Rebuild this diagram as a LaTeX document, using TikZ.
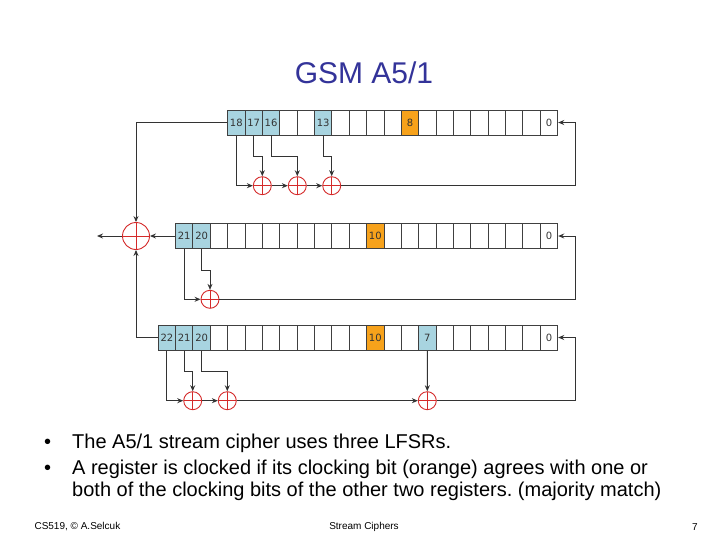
\documentclass[tikz,border=0pt]{standalone}
\usepackage{fontspec}
\setmainfont{Liberation Sans}
\newfontfamily\cellfont{DejaVu Sans}
\usetikzlibrary{arrows.meta}
\definecolor{cellblue}{HTML}{A8D4E0}
\definecolor{cellorange}{HTML}{F7A21B}
\definecolor{xred}{HTML}{D42A2A}
\definecolor{titleblue}{HTML}{333399}
\frenchspacing
\begin{document}
\begin{tikzpicture}[x=1pt,y=-1pt,
  cell/.style={draw=black!75,line width=1pt,minimum width=17.37pt,minimum height=25pt,inner sep=0pt,font=\cellfont\fontsize{10}{10}\selectfont,text=black!80},
  blue/.style={cell,fill=cellblue},
  orange/.style={cell,fill=cellorange},
  xor/.style={circle,draw=xred,line width=0.9pt,minimum size=#1,inner sep=0pt,
    path picture={\draw[xred,line width=0.9pt] (path picture bounding box.north)--(path picture bounding box.south) (path picture bounding box.west)--(path picture bounding box.east);}},
  xor/.default=18pt,
  ln/.style={draw=black!80,line width=1pt},
  arr/.style={ln,-{Stealth[length=6pt,width=5pt]}},
  body/.style={anchor=base west,font=\fontsize{20}{20}\selectfont}]
\useasboundingbox (0,0) rectangle (728,546);
\def\R{557.7}\def\w{17.37}
\node[font=\fontsize{30}{30}\selectfont,text=titleblue] (title) at (364,73) {GSM A5/1};
% register 1
\foreach \n in {0,...,18} \node[cell] (a\n) at ({\R-(\n+0.5)*\w},122.5) {};
\node[blue] (a18) at ({\R-18.5*\w},122.5) {18};
\node[blue] (a17) at ({\R-17.5*\w},122.5) {17};
\node[blue] (a16) at ({\R-16.5*\w},122.5) {16};
\node[blue] (a13) at ({\R-13.5*\w},122.5) {13};
\node[orange] (a8) at ({\R-8.5*\w},122.5) {8};
\node[cell] (a0) at ({\R-0.5*\w},122.5) {0};
% register 2
\foreach \n in {0,...,21} \node[cell] (b\n) at ({\R-(\n+0.5)*\w},236) {};
\node[blue] (b21) at ({\R-21.5*\w},236) {21};
\node[blue] (b20) at ({\R-20.5*\w},236) {20};
\node[orange] (b10) at ({\R-10.5*\w},236) {10};
\node[cell] (b0) at ({\R-0.5*\w},236) {0};
% register 3
\foreach \n in {0,...,22} \node[cell] (c\n) at ({\R-(\n+0.5)*\w},337.5) {};
\node[blue] (c22) at ({\R-22.5*\w},337.5) {22};
\node[blue] (c21) at ({\R-21.5*\w},337.5) {21};
\node[blue] (c20) at ({\R-20.5*\w},337.5) {20};
\node[orange] (c10) at ({\R-10.5*\w},337.5) {10};
\node[blue] (c7) at ({\R-7.5*\w},337.5) {7};
\node[cell] (c0) at ({\R-0.5*\w},337.5) {0};
% xors
\node[xor] (x1) at (262.3,185.7) {};
\node[xor] (x2) at (297.3,185.7) {};
\node[xor] (x3) at (331.7,185.7) {};
\node[xor] (y1) at (210,299.3) {};
\node[xor] (z1) at (192.7,400.7) {};
\node[xor] (z2) at (227.3,400.7) {};
\node[xor] (z3) at (427.3,400.7) {};
\node[xor=27pt] (big) at (136,236) {};
\coordinate (out) at (97,236);
% reg1 feedback
\draw[arr] (a18.south) |- (x1.west);
\draw[arr] (a17.south) -- (a17.south |- 0,156.7) -| (x1.north);
\draw[arr] (a16.south) -- (a16.south |- 0,156.7) -| (x2.north);
\draw[arr] (a13.south) -- (a13.south |- 0,156.7) -| (x3.north);
\draw[arr] (x1) -- (x2);
\draw[arr] (x2) -- (x3);
\draw[arr] (x3.east) -- (575,185.7) |- (a0.east);
% reg2 feedback
\draw[arr] (b21.south) |- (y1.west);
\draw[arr] (b20.south) -- (b20.south |- 0,270) -| (y1.north);
\draw[arr] (y1.east) -- (575,299.3) |- (b0.east);
% reg3 feedback
\draw[arr] (c22.south) |- (z1.west);
\draw[arr] (c21.south) -- (c21.south |- 0,371.7) -| (z1.north);
\draw[arr] (c20.south) -- (c20.south |- 0,371.7) -| (z2.north);
\draw[arr] (c7.south) -- (z3.north);
\draw[arr] (z1) -- (z2);
\draw[arr] (z2) -- (z3);
\draw[arr] (z3.east) -- (575,400.7) |- (c0.east);
% output
\draw[arr] (a18.west) -| (big.north);
\draw[arr] (b21.west) -- (big.east);
\draw[arr] (c22.west) -| (big.south);
\draw[arr] (big.west) -- (out);
% text
\node[body,inner sep=0pt] (b1) at (44,448) {\textbullet};
\node[body,inner sep=0pt] (t1) at (72,448) {The A5/1 stream cipher uses three LFSRs.};
\node[body,inner sep=0pt] (b2) at (44,474) {\textbullet};
\node[body,inner sep=0pt] (t2) at (72,474) {A register is clocked if its clocking bit (orange) agrees with one or};
\node[body,inner sep=0pt] (t3) at (72,496) {both of the clocking bits of the other two registers. (majority match)};
\node[anchor=west,font=\fontsize{10}{10}\selectfont] (f1) at (31,527) {CS519, \textcopyright\ A.Selcuk};
\node[font=\fontsize{10}{10}\selectfont] (f2) at (364,527) {Stream Ciphers};
\node[font=\fontsize{10}{10}\selectfont] (f3) at (695,527) {7};
\end{tikzpicture}
\end{document}
